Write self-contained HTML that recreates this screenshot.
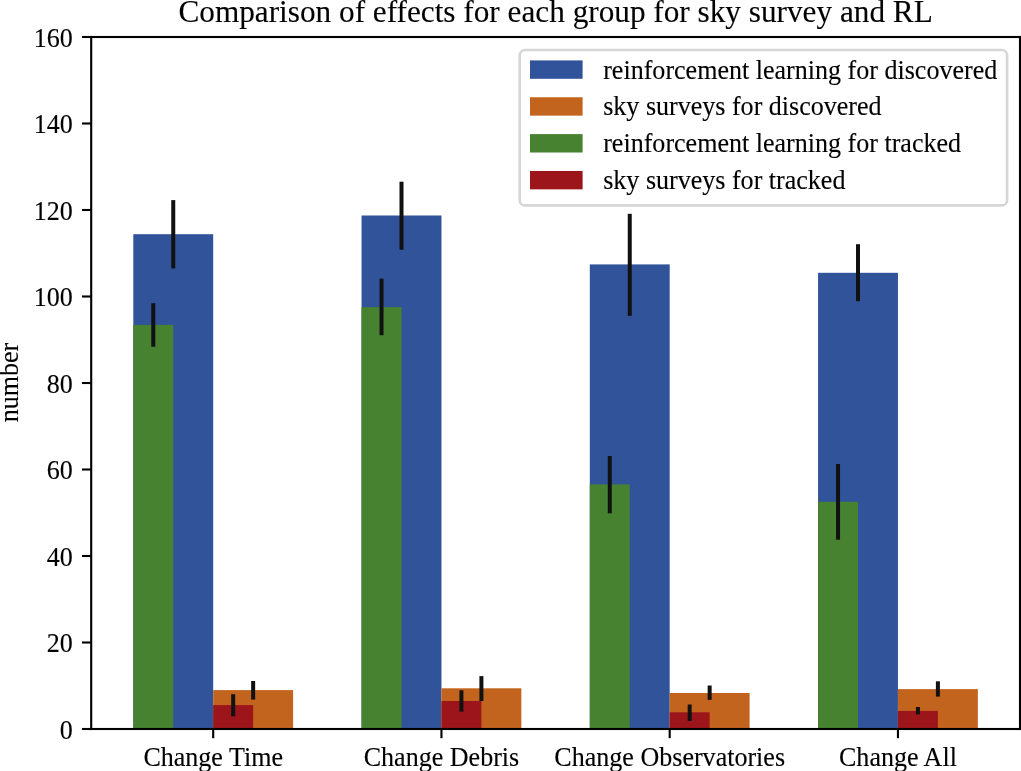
<!DOCTYPE html>
<html><head><meta charset="utf-8"><title>Comparison of effects</title>
<style>
html,body{margin:0;padding:0;background:#fff;width:1021px;height:771px;overflow:hidden;}
svg{display:block;will-change:transform;}
text{font-family:"Liberation Serif", serif;fill:#000;}
</style></head><body>
<svg width="1021" height="771" viewBox="0 0 1021 771">
<rect x="0" y="0" width="1021" height="771" fill="#ffffff"/>
<rect x="133.30" y="234.20" width="79.90" height="494.80" fill="#31539a"/>
<rect x="213.20" y="690.10" width="79.90" height="38.90" fill="#c3641e"/>
<rect x="361.55" y="215.50" width="79.90" height="513.50" fill="#31539a"/>
<rect x="441.45" y="688.30" width="79.90" height="40.70" fill="#c3641e"/>
<rect x="589.80" y="264.40" width="79.90" height="464.60" fill="#31539a"/>
<rect x="669.70" y="693.00" width="79.90" height="36.00" fill="#c3641e"/>
<rect x="818.05" y="272.80" width="79.90" height="456.20" fill="#31539a"/>
<rect x="897.95" y="689.10" width="79.90" height="39.90" fill="#c3641e"/>
<rect x="133.30" y="324.90" width="39.95" height="404.10" fill="#468230"/>
<rect x="213.20" y="705.10" width="39.95" height="23.90" fill="#9c151b"/>
<rect x="361.55" y="307.10" width="39.95" height="421.90" fill="#468230"/>
<rect x="441.45" y="701.00" width="39.95" height="28.00" fill="#9c151b"/>
<rect x="589.80" y="484.40" width="39.95" height="244.60" fill="#468230"/>
<rect x="669.70" y="712.30" width="39.95" height="16.70" fill="#9c151b"/>
<rect x="818.05" y="501.80" width="39.95" height="227.20" fill="#468230"/>
<rect x="897.95" y="710.90" width="39.95" height="18.10" fill="#9c151b"/>
<rect x="171.25" y="200.10" width="4.00" height="68.30" fill="#111111"/>
<rect x="251.15" y="681.00" width="4.00" height="18.60" fill="#111111"/>
<rect x="151.27" y="303.20" width="4.00" height="43.50" fill="#111111"/>
<rect x="231.17" y="694.20" width="4.00" height="22.10" fill="#111111"/>
<rect x="399.50" y="181.70" width="4.00" height="68.00" fill="#111111"/>
<rect x="479.40" y="676.10" width="4.00" height="24.90" fill="#111111"/>
<rect x="379.52" y="278.60" width="4.00" height="56.60" fill="#111111"/>
<rect x="459.43" y="690.30" width="4.00" height="21.30" fill="#111111"/>
<rect x="627.75" y="213.80" width="4.00" height="102.00" fill="#111111"/>
<rect x="707.65" y="685.50" width="4.00" height="14.40" fill="#111111"/>
<rect x="607.78" y="456.00" width="4.00" height="57.30" fill="#111111"/>
<rect x="687.68" y="704.50" width="4.00" height="16.40" fill="#111111"/>
<rect x="856.00" y="244.20" width="4.00" height="57.00" fill="#111111"/>
<rect x="935.90" y="681.30" width="4.00" height="15.30" fill="#111111"/>
<rect x="836.03" y="464.00" width="4.00" height="75.70" fill="#111111"/>
<rect x="915.93" y="707.00" width="4.00" height="7.30" fill="#111111"/>
<rect x="90.15" y="35.95" width="2.10" height="694.10" fill="#000"/>
<rect x="1018.95" y="35.95" width="2.10" height="694.10" fill="#000"/>
<rect x="90.15" y="35.95" width="930.90" height="2.10" fill="#000"/>
<rect x="90.15" y="727.95" width="930.90" height="2.10" fill="#000"/>
<rect x="82.00" y="727.95" width="9.20" height="2.10" fill="#000"/>
<text transform="translate(72.8,738.65) scale(1,1.035)" text-anchor="end" font-size="26.05" stroke="#000" stroke-width="0.12">0</text>
<rect x="82.00" y="641.45" width="9.20" height="2.10" fill="#000"/>
<text transform="translate(72.8,652.15) scale(1,1.035)" text-anchor="end" font-size="26.05" stroke="#000" stroke-width="0.12">20</text>
<rect x="82.00" y="554.95" width="9.20" height="2.10" fill="#000"/>
<text transform="translate(72.8,565.65) scale(1,1.035)" text-anchor="end" font-size="26.05" stroke="#000" stroke-width="0.12">40</text>
<rect x="82.00" y="468.45" width="9.20" height="2.10" fill="#000"/>
<text transform="translate(72.8,479.15) scale(1,1.035)" text-anchor="end" font-size="26.05" stroke="#000" stroke-width="0.12">60</text>
<rect x="82.00" y="381.95" width="9.20" height="2.10" fill="#000"/>
<text transform="translate(72.8,392.65) scale(1,1.035)" text-anchor="end" font-size="26.05" stroke="#000" stroke-width="0.12">80</text>
<rect x="82.00" y="295.45" width="9.20" height="2.10" fill="#000"/>
<text transform="translate(72.8,306.15) scale(1,1.035)" text-anchor="end" font-size="26.05" stroke="#000" stroke-width="0.12">100</text>
<rect x="82.00" y="208.95" width="9.20" height="2.10" fill="#000"/>
<text transform="translate(72.8,219.65) scale(1,1.035)" text-anchor="end" font-size="26.05" stroke="#000" stroke-width="0.12">120</text>
<rect x="82.00" y="122.45" width="9.20" height="2.10" fill="#000"/>
<text transform="translate(72.8,133.15) scale(1,1.035)" text-anchor="end" font-size="26.05" stroke="#000" stroke-width="0.12">140</text>
<rect x="82.00" y="35.95" width="9.20" height="2.10" fill="#000"/>
<text transform="translate(72.8,46.65) scale(1,1.035)" text-anchor="end" font-size="26.05" stroke="#000" stroke-width="0.12">160</text>
<rect x="212.15" y="729.00" width="2.10" height="9.20" fill="#000"/>
<text transform="translate(213.20,765.8) scale(1,1.035)" text-anchor="middle" font-size="26.05" stroke="#000" stroke-width="0.12">Change Time</text>
<rect x="440.40" y="729.00" width="2.10" height="9.20" fill="#000"/>
<text transform="translate(441.45,765.8) scale(1,1.035)" text-anchor="middle" font-size="26.05" stroke="#000" stroke-width="0.12">Change Debris</text>
<rect x="668.65" y="729.00" width="2.10" height="9.20" fill="#000"/>
<text transform="translate(669.70,765.8) scale(1,1.035)" text-anchor="middle" font-size="26.05" stroke="#000" stroke-width="0.12">Change Observatories</text>
<rect x="896.90" y="729.00" width="2.10" height="9.20" fill="#000"/>
<text transform="translate(897.95,765.8) scale(1,1.035)" text-anchor="middle" font-size="26.05" stroke="#000" stroke-width="0.12">Change All</text>
<text transform="translate(18.1,382.6) rotate(-90) scale(1,1.035)" text-anchor="middle" font-size="26.05" stroke="#000" stroke-width="0.12">number</text>
<text transform="translate(555.6,21.9) scale(1,1.035)" text-anchor="middle" font-size="31.26" stroke="#000" stroke-width="0.12">Comparison of effects for each group for sky survey and RL</text>
<rect x="519.7" y="50.05" width="487.4" height="155.35" rx="5.2" ry="5.2" fill="#ffffff" fill-opacity="0.8" stroke="#d6d6d6" stroke-width="2.6"/>
<rect x="530" y="60.40" width="52.6" height="18.4" fill="#31539a"/>
<text transform="translate(603.2,78.50) scale(1,1.035)" font-size="26.05" stroke="#000" stroke-width="0.12">reinforcement learning for discovered</text>
<rect x="530" y="97.25" width="52.6" height="18.4" fill="#c3641e"/>
<text transform="translate(603.2,115.35) scale(1,1.035)" font-size="26.05" stroke="#000" stroke-width="0.12">sky surveys for discovered</text>
<rect x="530" y="134.10" width="52.6" height="18.4" fill="#468230"/>
<text transform="translate(603.2,152.20) scale(1,1.035)" font-size="26.05" stroke="#000" stroke-width="0.12">reinforcement learning for tracked</text>
<rect x="530" y="170.95" width="52.6" height="18.4" fill="#9c151b"/>
<text transform="translate(603.2,189.05) scale(1,1.035)" font-size="26.05" stroke="#000" stroke-width="0.12">sky surveys for tracked</text>
</svg>
</body></html>
